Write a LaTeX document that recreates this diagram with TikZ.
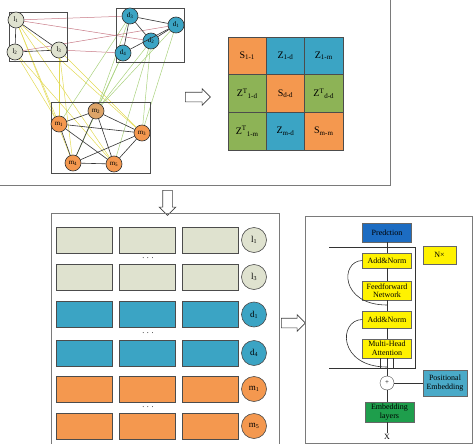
\documentclass[tikz,border=0pt]{standalone}
\usepackage{fontspec}
\setmainfont{Liberation Serif}
\usetikzlibrary{shapes.arrows,backgrounds}

\definecolor{lgrey}{HTML}{DFE2CF}
\definecolor{dblue}{HTML}{3BA4C4}
\definecolor{morange}{HTML}{F4984F}
\definecolor{mtan}{HTML}{DDA468}
\definecolor{zgreen}{HTML}{8DB356}
\definecolor{predblue}{HTML}{1C6CC2}
\definecolor{posblue}{HTML}{4AAAC8}
\definecolor{embgreen}{HTML}{1E9E4C}
\definecolor{ldred}{HTML}{C77A86}
\definecolor{lmyellow}{HTML}{E3DA55}
\definecolor{dmgreen}{HTML}{A9D27E}
\definecolor{panelgrey}{HTML}{7A7A7A}

\tikzset{
    gnode/.style={circle, draw=black!80, line width=0.6pt, minimum size=16pt, inner sep=0pt, font=\fontsize{7}{8}\selectfont},
    grpbox/.style={draw=black!70, line width=0.7pt},
    panel/.style={draw=panelgrey, line width=1pt},
    cell/.style={draw=black!70, line width=0.6pt, minimum width=38.3pt, minimum height=37.7pt, inner sep=0pt, font=\fontsize{10}{10}\selectfont},
    rowbox/.style={draw=black!70, line width=0.6pt, minimum width=56pt, minimum height=26pt, inner sep=0pt},
    tag/.style={circle, draw=black!70, line width=0.6pt, minimum size=25pt, inner sep=0pt, font=\fontsize{9}{9}\selectfont},
    tbox/.style={draw=black!60, fill=yellow, minimum width=49pt, inner sep=1pt, align=center, font=\fontsize{8}{8.5}\selectfont},
    hollow/.style={single arrow, draw=black!75, fill=white, line width=0.6pt, inner xsep=0pt, inner ysep=4.5pt, single arrow head extend=3.5pt, minimum height=25pt},
    blk/.style={draw=black!80, line width=0.6pt},
    ld/.style={draw=ldred, line width=0.5pt},
    lm/.style={draw=lmyellow, line width=0.5pt},
    dm/.style={draw=dmgreen, line width=0.5pt}
}

\begin{document}
\begin{tikzpicture}[x=1pt,y=-1pt]
        \useasboundingbox (0,0) rectangle (474,444);

        % top panel
        \draw[panel] (0,185) -- (390,185) -- (390,0);

        \draw[grpbox] (9,12) rectangle (67,61);
        \draw[grpbox] (116,8) rectangle (184,62);
        \draw[grpbox] (51,102) rectangle (150,173);

        \node[gnode, fill=lgrey] (l1) at (16,20) {l\textsubscript{1}};
        \node[gnode, fill=lgrey] (l2) at (15,52) {l\textsubscript{2}};
        \node[gnode, fill=lgrey] (l3) at (59,50) {l\textsubscript{3}};

        \node[gnode, fill=dblue] (d3) at (130,16) {d\textsubscript{3}};
        \node[gnode, fill=dblue] (d1) at (176,25) {d\textsubscript{1}};
        \node[gnode, fill=dblue] (d2) at (151,41) {d\textsubscript{2}};
        \node[gnode, fill=dblue] (d4) at (123,53) {d\textsubscript{4}};

        \node[gnode, fill=mtan] (m2) at (96,111) {m\textsubscript{2}};
        \node[gnode, fill=morange] (m1) at (59,124) {m\textsubscript{1}};
        \node[gnode, fill=morange] (m3) at (142,133) {m\textsubscript{3}};
        \node[gnode, fill=morange] (m4) at (73,163) {m\textsubscript{4}};
        \node[gnode, fill=morange] (m5) at (114,164) {m\textsubscript{5}};

        \begin{scope}[on background layer]
            \draw[lm] (l1) -- (m1);
            \draw[lm] (l1) -- (m4);
            \draw[lm] (l1) -- (m5);
            \draw[lm] (l1) -- (m3);
            \draw[lm] (l2) -- (m1);
            \draw[lm] (l2) -- (m5);
            \draw[lm] (l3) -- (m1);
            \draw[lm] (l3) -- (m3);
            \draw[lm] (l3) -- (m4);
            \draw[dm] (d3) -- (m1);
            \draw[dm] (d3) -- (m2);
            \draw[dm] (d4) -- (m2);
            \draw[dm] (d2) -- (m2);
            \draw[dm] (d1) -- (m2);
            \draw[dm] (d4) -- (m4);
            \draw[dm] (d2) -- (m5);
            \draw[dm] (d1) -- (m3);
            \draw[dm] (d2) -- (m3);
            \draw[ld] (l1) -- (d3);
            \draw[ld] (l1) -- (d2);
            \draw[ld] (l2) -- (d1);
            \draw[ld] (l3) -- (d4);
        \end{scope}

        \draw[blk] (l1) -- (l2);
        \draw[blk] (l1) -- (l3);
        \draw[blk] (l2) -- (l3);

        \draw[blk] (d3) -- (d1);
        \draw[blk] (d3) -- (d2);
        \draw[blk] (d3) -- (d4);
        \draw[blk] (d2) -- (d1);
        \draw[blk] (d4) -- (d1);

        \draw[blk] (m1) -- (m2);
        \draw[blk] (m1) -- (m3);
        \draw[blk] (m1) -- (m4);
        \draw[blk] (m1) -- (m5);
        \draw[blk] (m2) -- (m3);
        \draw[blk] (m2) -- (m4);
        \draw[blk] (m2) -- (m5);
        \draw[blk] (m3) -- (m4);
        \draw[blk] (m3) -- (m5);
        \draw[blk] (m4) -- (m5);

        \node[hollow] (toz) at (195.5,97) {};

        % block matrix
        \node[cell, fill=morange] (s11) at (247.2,55.8) {S\textsubscript{1-1}};
        \node[cell, fill=dblue] (z1d) at (285.5,55.8) {Z\textsubscript{1-d}};
        \node[cell, fill=dblue] (z1m) at (323.8,55.8) {Z\textsubscript{1-m}};
        \node[cell, fill=zgreen] (zt1d) at (247.2,93.5) {Z\textsuperscript{T}\textsubscript{1-d}};
        \node[cell, fill=morange] (sdd) at (285.5,93.5) {S\textsubscript{d-d}};
        \node[cell, fill=zgreen] (ztdd) at (323.8,93.5) {Z\textsuperscript{T}\textsubscript{d-d}};
        \node[cell, fill=zgreen] (zt1m) at (247.2,131.2) {Z\textsuperscript{T}\textsubscript{1-m}};
        \node[cell, fill=dblue] (zmd) at (285.5,131.2) {Z\textsubscript{m-d}};
        \node[cell, fill=morange] (smm) at (323.8,131.2) {S\textsubscript{m-m}};

        \node[hollow, rotate=-90] (down) at (167.5,200.5) {};

        % embedding rows
        \draw[panel] (51,444) -- (51,213) -- (279,213) -- (279,444);

        \node[rowbox, fill=lgrey] (r1a) at (84,240) {};
        \node[rowbox, fill=lgrey] (r1b) at (147,240) {};
        \node[rowbox, fill=lgrey] (r1c) at (210.5,240) {};
        \node[tag, fill=lgrey] (t1) at (254,240) {l\textsubscript{1}};
        \node (dots1) at (148,258) {\fontsize{8}{8}\selectfont. . .};
        \node[rowbox, fill=lgrey] (r2a) at (84,277) {};
        \node[rowbox, fill=lgrey] (r2b) at (147,277) {};
        \node[rowbox, fill=lgrey] (r2c) at (210.5,277) {};
        \node[tag, fill=lgrey] (t2) at (254,277) {l\textsubscript{3}};

        \node[rowbox, fill=dblue] (r3a) at (84,314.5) {};
        \node[rowbox, fill=dblue] (r3b) at (147,314.5) {};
        \node[rowbox, fill=dblue] (r3c) at (210.5,314.5) {};
        \node[tag, fill=dblue] (t3) at (254,314.5) {d\textsubscript{1}};
        \node (dots2) at (148,333) {\fontsize{8}{8}\selectfont. . .};
        \node[rowbox, fill=dblue] (r4a) at (84,353) {};
        \node[rowbox, fill=dblue] (r4b) at (147,353) {};
        \node[rowbox, fill=dblue] (r4c) at (210.5,353) {};
        \node[tag, fill=dblue] (t4) at (254,353) {d\textsubscript{4}};

        \node[rowbox, fill=morange] (r5a) at (84,389) {};
        \node[rowbox, fill=morange] (r5b) at (147,389) {};
        \node[rowbox, fill=morange] (r5c) at (210.5,389) {};
        \node[tag, fill=morange] (t5) at (254,389) {m\textsubscript{1}};
        \node (dots3) at (148,407) {\fontsize{8}{8}\selectfont. . .};
        \node[rowbox, fill=morange] (r6a) at (84,426) {};
        \node[rowbox, fill=morange] (r6b) at (147,426) {};
        \node[rowbox, fill=morange] (r6c) at (210.5,426) {};
        \node[tag, fill=morange] (t6) at (254,426) {m\textsubscript{5}};

        \node[hollow, minimum height=24pt] (toenc) at (291,323) {};

        % transformer encoder
        \draw[panel] (305,216) rectangle (472,443);

        \node[tbox, fill=predblue, minimum height=19pt] (pred) at (387,232.5) {Predction};
        \node[tbox, minimum width=33pt, minimum height=18pt] (nx) at (439.5,255) {N×};
        \node[tbox, minimum height=15pt] (an1) at (387,260.5) {Add\&Norm};
        \node[tbox, minimum height=19pt] (ffn) at (387,290.5) {Feedforward\\Network};
        \node[tbox, minimum height=17pt] (an2) at (387,319.5) {Add\&Norm};
        \node[tbox, minimum height=19pt] (mha) at (387,348.5) {Multi-Head\\Attention};
        \node[circle, draw=black!70, fill=white, minimum size=14pt, inner sep=0pt, font=\fontsize{7}{7}\selectfont] (plus) at (387,383) {+};
        \node[tbox, fill=posblue, minimum width=44pt, minimum height=26pt] (pos) at (445,383) {Positional\\Embedding};
        \node[tbox, fill=embgreen, minimum height=20pt] (emb) at (389.5,412) {Embedding\\layers};
        \node[inner sep=1pt, font=\fontsize{8}{8}\selectfont] (xin) at (387,437) {X};

        \draw[blk] (329,247) -- (415,247) -- (415,368) -- (329,368);

        \coordinate (res1) at (387,305);
        \coordinate (res2) at (387,367);
        \coordinate (qk) at (380,368);
        \coordinate (qv) at (393,368);

        \draw[blk] (pred) -- (an1);
        \draw[blk] (an1) -- (ffn);
        \draw[blk] (ffn) -- (an2);
        \draw[blk] (an2) -- (mha);
        \draw[blk] (mha) -- (plus);
        \draw[blk] (qk) -- (qk |- mha.south);
        \draw[blk] (qv) -- (qv |- mha.south);
        \draw[blk] (plus) -- (pos);
        \draw[blk] (plus) -- (plus |- emb.north);
        \draw[blk] (plus |- emb.south) -- (xin);
        \draw[blk] (res1) .. controls (340,305) and (340,261) .. (an1.west);
        \draw[blk] (res2) .. controls (338,367) and (338,320) .. (an2.west);
    \end{tikzpicture}
\end{document}
